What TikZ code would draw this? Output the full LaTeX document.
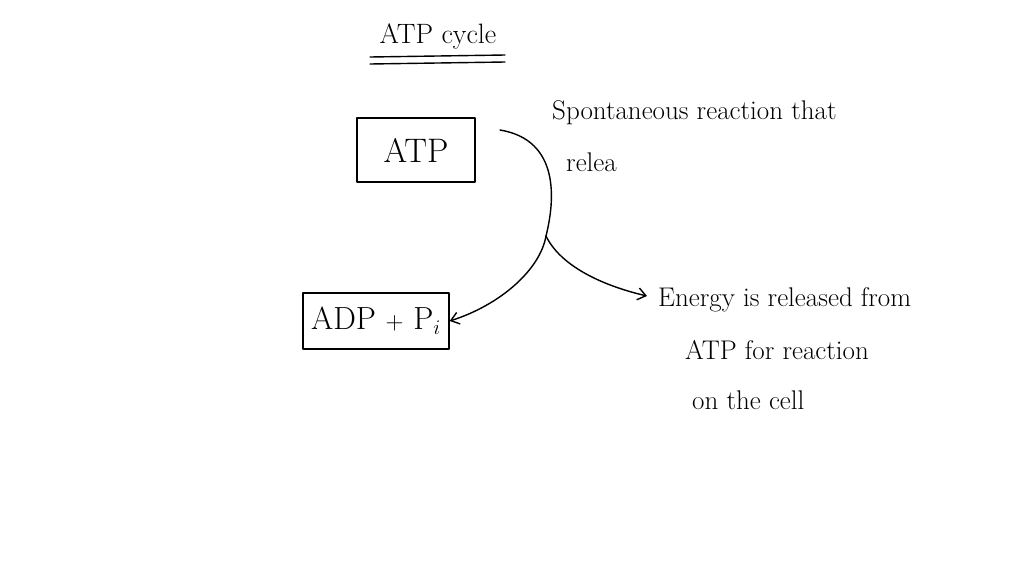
\documentclass[tikz,border=0pt]{standalone}
\usetikzlibrary{arrows.meta}
\tikzset{
  hand/.style={line width=1.4pt, black, line cap=round, line join=round},
  boxnode/.style={draw, hand, inner sep=0pt},
  lbl/.style={font=\fontsize{27}{30}\selectfont, anchor=west, inner sep=0pt},
  tip/.style={-{Straight Barb[length=8pt,width=12pt]}}
}
\begin{document}
\begin{tikzpicture}[x=1pt,y=-1pt]
\useasboundingbox (0,0) rectangle (1024,576);
\node[font=\fontsize{28}{32}\selectfont] (title) at (438,36) {ATP cycle};
\coordinate (u1a) at (370,57); \coordinate (u1b) at (505,55);
\coordinate (u2a) at (370,64); \coordinate (u2b) at (505,62);
\draw[hand] (u1a) -- (u1b);
\draw[hand] (u2a) -- (u2b);
\node[boxnode, minimum width=118pt, minimum height=64pt, font=\fontsize{34}{38}\selectfont] (atp) at (416,150) {ATP};
\node[boxnode, minimum width=146pt, minimum height=56pt, font=\fontsize{32}{36}\selectfont] (adp) at (376,321) {ADP $+$ P$_i$};
\coordinate (start) at (500,130);
\coordinate (branch) at (546,236);
\coordinate (end2) at (647,296);
\draw[hand] (start) .. controls (560,140) and (555,200) .. (branch);
\draw[hand, tip] (branch) .. controls (540,270) and (500,305) .. (adp.east);
\draw[hand, tip] (branch) .. controls (560,265) and (600,285) .. (end2);
\node[lbl] (sp) at (552,113) {Spontaneous reaction that};
\node[lbl] (re) at (566,162) {relea};
\node[lbl] (en) at (658,300) {Energy is released from};
\node[lbl] (en2) at (685,350) {ATP for reaction};
\node[lbl] (en3) at (692,400) {on the cell};
\end{tikzpicture}
\end{document}
